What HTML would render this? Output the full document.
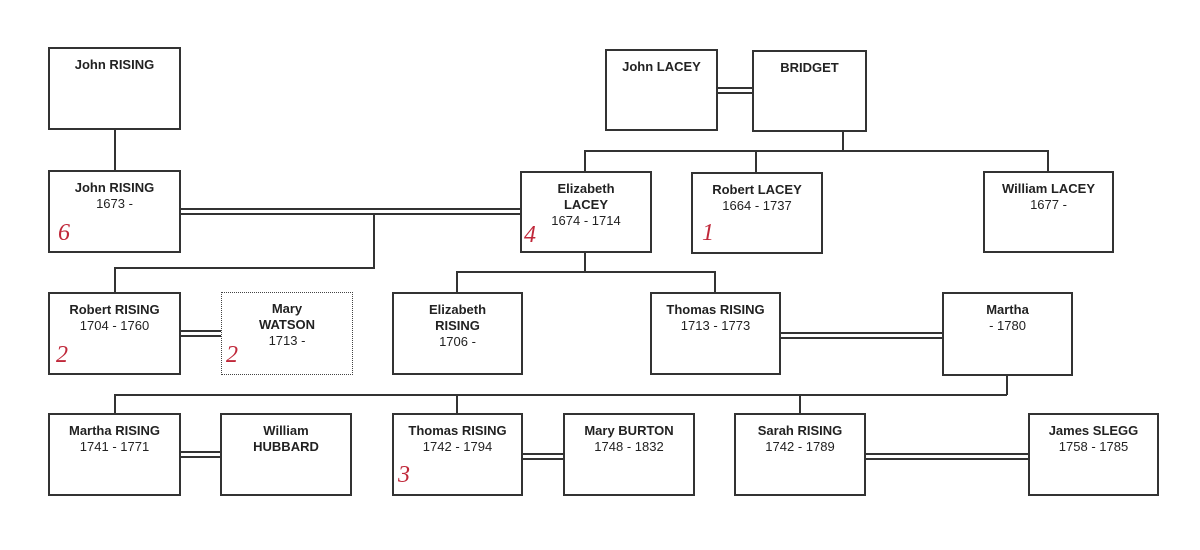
<!DOCTYPE html>
<html><head><style>
body{margin:0;width:1200px;height:550px;background:#fff;position:relative;overflow:hidden;font-family:"Liberation Sans",Arial,sans-serif}
.b{position:absolute;border:2px solid #333;box-sizing:border-box;text-align:center;font-size:13px;color:#222;padding-top:8px;line-height:16px;background:#fff}
.b b{font-weight:bold}
.d{border:1.5px dotted #444}
.r{position:absolute;color:#c0283a;font-family:"Liberation Serif",serif;font-style:italic;font-size:24px}
svg{position:absolute;left:0;top:0}
</style></head><body>
<svg width="1200" height="550" stroke="#333" stroke-width="2" fill="none">
<line x1="115" y1="129" x2="115" y2="171"/>
<line x1="180" y1="209" x2="520" y2="209"/><line x1="180" y1="214" x2="520" y2="214"/>
<polyline points="374,214 374,268 115,268 115,292"/>
<line x1="717" y1="88" x2="752" y2="88"/><line x1="717" y1="93" x2="752" y2="93"/>
<line x1="843" y1="131" x2="843" y2="151"/>
<polyline points="585,171 585,151 1048,151 1048,171"/><line x1="756" y1="151" x2="756" y2="172"/>
<line x1="585" y1="252" x2="585" y2="272"/>
<polyline points="457,292 457,272 715,272 715,292"/>
<line x1="180" y1="331" x2="221" y2="331"/><line x1="180" y1="336" x2="221" y2="336"/>
<line x1="780" y1="333" x2="942" y2="333"/><line x1="780" y1="338" x2="942" y2="338"/>
<line x1="1007" y1="375" x2="1007" y2="395"/>
<polyline points="115,413 115,395 1007,395"/><line x1="457" y1="395" x2="457" y2="413"/><line x1="800" y1="395" x2="800" y2="413"/>
<line x1="180" y1="452" x2="220" y2="452"/><line x1="180" y1="457" x2="220" y2="457"/>
<line x1="522" y1="454" x2="563" y2="454"/><line x1="522" y1="459" x2="563" y2="459"/>
<line x1="865" y1="454" x2="1028" y2="454"/><line x1="865" y1="459" x2="1028" y2="459"/>
</svg>
<div class="b" style="left:48px;top:47px;width:133px;height:83px"><b>John RISING</b></div>
<div class="b" style="left:605px;top:49px;width:113px;height:82px"><b>John LACEY</b></div>
<div class="b" style="left:752px;top:50px;width:115px;height:82px"><b>BRIDGET</b></div>
<div class="b" style="left:48px;top:170px;width:133px;height:83px"><b>John RISING</b><br>1673 -</div>
<div class="b" style="left:520px;top:171px;width:132px;height:82px"><b>Elizabeth<br>LACEY</b><br>1674 - 1714</div>
<div class="b" style="left:691px;top:172px;width:132px;height:82px"><b>Robert LACEY</b><br>1664 - 1737</div>
<div class="b" style="left:983px;top:171px;width:131px;height:82px"><b>William LACEY</b><br>1677 -</div>
<div class="b" style="left:48px;top:292px;width:133px;height:83px"><b>Robert RISING</b><br>1704 - 1760</div>
<div class="b d" style="left:221px;top:292px;width:132px;height:83px"><b>Mary<br>WATSON</b><br>1713 -</div>
<div class="b" style="left:392px;top:292px;width:131px;height:83px"><b>Elizabeth<br>RISING</b><br>1706 -</div>
<div class="b" style="left:650px;top:292px;width:131px;height:83px"><b>Thomas RISING</b><br>1713 - 1773</div>
<div class="b" style="left:942px;top:292px;width:131px;height:84px"><b>Martha</b><br>- 1780</div>
<div class="b" style="left:48px;top:413px;width:133px;height:83px"><b>Martha RISING</b><br>1741 - 1771</div>
<div class="b" style="left:220px;top:413px;width:132px;height:83px"><b>William<br>HUBBARD</b></div>
<div class="b" style="left:392px;top:413px;width:131px;height:83px"><b>Thomas RISING</b><br>1742 - 1794</div>
<div class="b" style="left:563px;top:413px;width:132px;height:83px"><b>Mary BURTON</b><br>1748 - 1832</div>
<div class="b" style="left:734px;top:413px;width:132px;height:83px"><b>Sarah RISING</b><br>1742 - 1789</div>
<div class="b" style="left:1028px;top:413px;width:131px;height:83px"><b>James SLEGG</b><br>1758 - 1785</div>
<div class="r" style="left:58px;top:220px">6</div>
<div class="r" style="left:524px;top:222px">4</div>
<div class="r" style="left:702px;top:220px">1</div>
<div class="r" style="left:56px;top:342px">2</div>
<div class="r" style="left:226px;top:342px">2</div>
<div class="r" style="left:398px;top:462px">3</div>
</body></html>
